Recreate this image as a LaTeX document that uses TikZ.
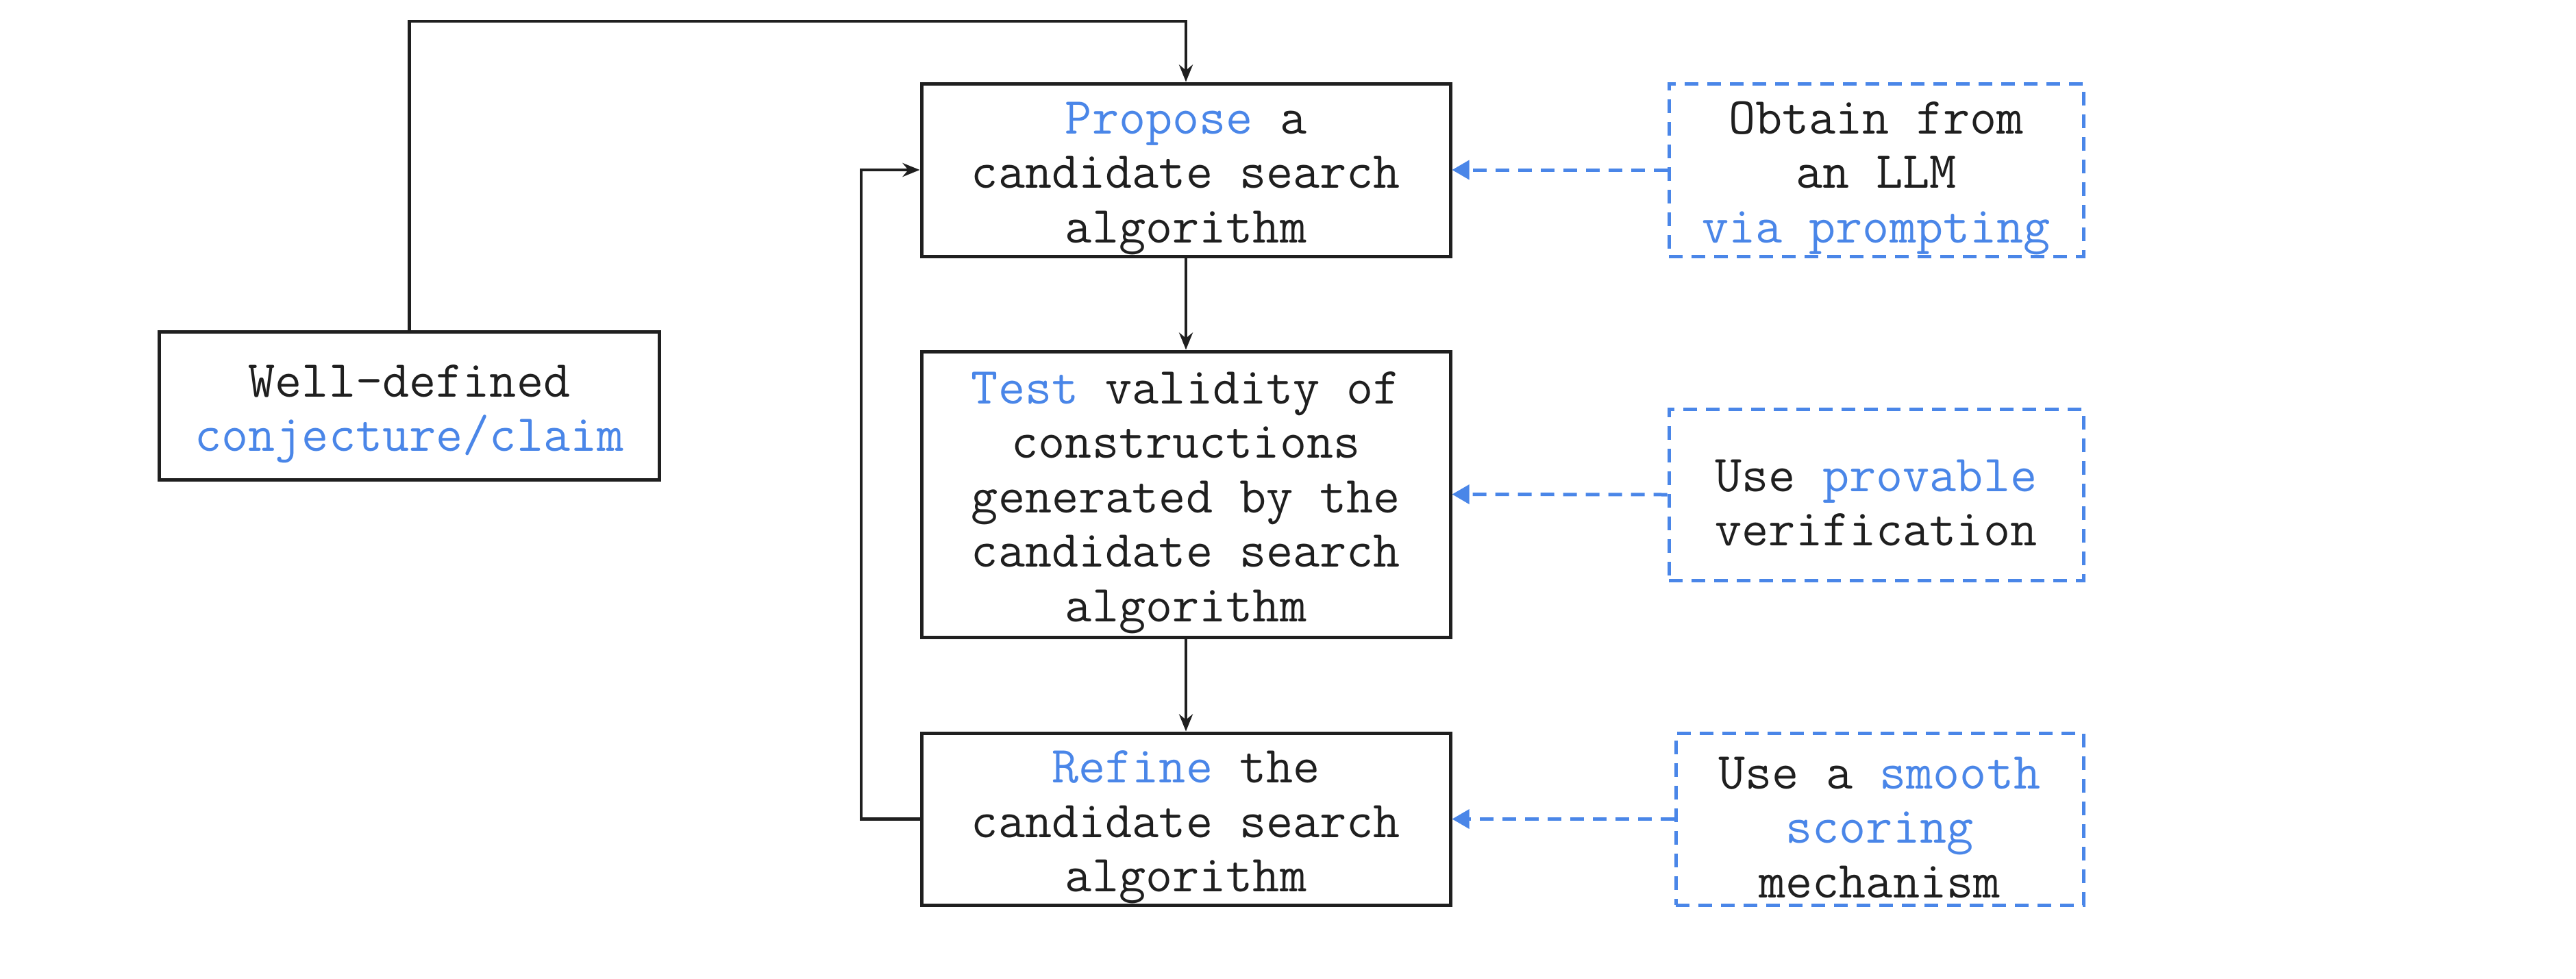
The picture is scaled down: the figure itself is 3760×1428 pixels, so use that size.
\documentclass[tikz,border=0pt]{standalone}
\usepackage{fontspec}
\usetikzlibrary{arrows.meta}
\definecolor{hl}{HTML}{4A86E8}
\definecolor{ink}{HTML}{1F1F1F}
\begin{document}
\begin{tikzpicture}[x=0.2pt,y=-0.2pt,
  txt/.style={align=center, inner sep=0pt, text=ink, yshift=-2.4pt, font=\ttfamily\fontsize{15.2}{15.9}\selectfont},
  solidbox/.style={draw=ink, line width=1pt, inner sep=0pt},
  dashbox/.style={draw=hl, line width=1pt, inner sep=0pt, dash pattern=on 4pt off 2.6pt},
  flow/.style={draw=ink, line width=0.9pt, -{Stealth[length=5pt,width=4pt]}},
  hint/.style={draw=hl, line width=1pt, dash pattern=on 4pt off 2.6pt, -{Triangle[length=5pt,width=5.5pt]}}]
\useasboundingbox (0,0) rectangle (3760,1428);

\node[solidbox, minimum width=145.8pt, minimum height=43.2pt] (wd) at (597.5,592) {};
\node[txt] (wdt) at (wd.center) {Well-defined\\\textcolor{hl}{conjecture/claim}};
\node[solidbox, minimum width=154.4pt, minimum height=50.4pt] (prop) at (1731,248) {};
\node[txt] (propt) at (prop.center) {\textcolor{hl}{Propose} a\\candidate search\\algorithm};
\node[solidbox, minimum width=154.4pt, minimum height=83.4pt] (test) at (1731,721.5) {};
\node[txt] (testt) at (test.center) {\textcolor{hl}{Test} validity of\\constructions\\generated by the\\candidate search\\algorithm};
\node[solidbox, minimum width=154.4pt, minimum height=50.2pt] (ref) at (1731,1195.5) {};
\node[txt] (reft) at (ref.center) {\textcolor{hl}{Refine} the\\candidate search\\algorithm};

\node[dashbox, minimum width=121pt, minimum height=50.4pt] (llm) at (2738.5,248) {};
\node[txt] (llmt) at (llm.center) {Obtain from\\an LLM\\\textcolor{hl}{via prompting}};
\node[dashbox, minimum width=121pt, minimum height=50pt] (ver) at (2738.5,722) {};
\node[txt] (vert) at (ver.center) {Use \textcolor{hl}{provable}\\verification};
\node[dashbox, minimum width=119pt, minimum height=50.2pt] (score) at (2743.5,1195.5) {};
\node[txt] (scoret) at (score.center) {Use a \textcolor{hl}{smooth}\\\textcolor{hl}{scoring}\\mechanism};

\coordinate (c1) at (597.5,31);
\coordinate (c2) at (1731,31);
\coordinate (l1) at (1257,1195.5);
\coordinate (l2) at (1257,248);

\draw[flow] (wd.north) -- (c1) -- (c2) -- (prop.north);
\draw[flow] (prop.south) -- (test.north);
\draw[flow] (test.south) -- (ref.north);
\draw[flow] (ref.west) -- (l1) -- (l2) -- (prop.west);

\draw[hint] (llm.west) -- (prop.east);
\draw[hint] (ver.west) -- (test.east);
\draw[hint] (score.west) -- (ref.east);
\end{tikzpicture}
\end{document}
